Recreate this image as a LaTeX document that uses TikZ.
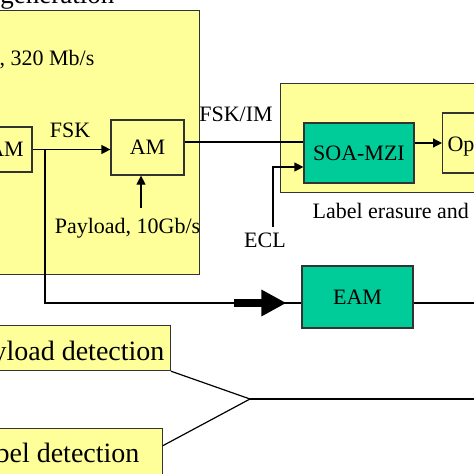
\documentclass[tikz,border=0pt]{standalone}
\usepackage{fontspec}
\setmainfont{Liberation Serif}
\usetikzlibrary{arrows.meta,calc}
\definecolor{panelyellow}{HTML}{FFFF99}
\definecolor{devgreen}{HTML}{00CC99}
\begin{document}
\begin{tikzpicture}[x=1pt,y=-1pt,>={Triangle[length=9pt,width=9pt]},
  line width=1.2pt,
  panel/.style={draw=black!80,fill=panelyellow,inner sep=0pt},
  block/.style={panel,font=\fontsize{22}{26}\selectfont},
  device/.style={draw=black!80,fill=devgreen,inner sep=0pt,font=\fontsize{22}{26}\selectfont},
  txt/.style={inner sep=0pt,font=\fontsize{22}{26}\selectfont},
  bigtxt/.style={inner sep=0pt,font=\fontsize{28}{32}\selectfont},
  bigarrow/.style={line width=8pt,-{Triangle[length=25pt,width=25pt]}}]
 \useasboundingbox (0,0) rectangle (474,474);
 \clip (0,0) rectangle (474,474);
 % label generation
 \node[panel,anchor=north east,minimum width=260,minimum height=264] (gen) at (200,10) {};
 \node[bigtxt,font=\fontsize{27}{31}\selectfont,anchor=base east] (gentitle) at (115,3) {Label generation};
 \node[txt,anchor=base east] (rate) at (95,65) {Label, 320 Mb/s};
 \node[block,minimum width=52,minimum height=45] (am1) at (6,149.5) {AM};
 \node[block,minimum width=73,minimum height=55] (am2) at (147.5,147.5) {AM};
 \draw[->] (am1.east) -- (am2.west |- am1.east);
 \node[txt,anchor=base] (fsk) at (70,137) {FSK};
 \node[txt,anchor=base] (pay) at (127.5,233) {Payload, 10Gb/s};
 \coordinate (payin) at (141,208);
 \draw[->] (payin) -- (payin |- am2.south);
 % label erasure
 \node[panel,anchor=north west,minimum width=220,minimum height=109] (erase) at (280,83) {};
 \node[device,minimum width=110,minimum height=60] (soa) at (359,153) {SOA-MZI};
 \node[panel,anchor=west,minimum width=80,minimum height=60] (op) at (442,143) {};
 \node[txt,anchor=base west] (optxt) at (447,151) {Op};
 \coordinate (fskim) at ($(am2.east)+(0,-5.5)$);
 \draw (fskim) -- (fskim -| soa.west);
 \node[txt,anchor=base] (fskimtxt) at (236,121) {FSK/IM};
 \draw[->] (soa.east |- op.west) -- (op.west);
 \node[txt,anchor=base] (ecl) at (265,247) {ECL};
 \coordinate (eclup) at (273,227);
 \draw[->] (eclup) |- ($(soa.west)+(0,14)$);
 \node[txt,anchor=base west] (erasetxt) at (312,218) {Label erasure and};
 % payload branch
 \node[device,minimum width=111,minimum height=62] (eam) at (357.5,297) {EAM};
 \coordinate (tap) at (45,149.5);
 \coordinate (eamin) at ($(eam.west)+(0,6)$);
 \draw (tap) |- (eamin);
 \draw[bigarrow] ($(eamin)+(-67,0)$) -- ($(eamin)+(-15,0)$);
 \coordinate (eamout) at ($(eam.east)+(0,6)$);
 \draw (eamout) -- ++(70,0);
 % detection
 \node[panel,anchor=north east,minimum width=260,minimum height=45] (pdet) at (171,325) {};
 \node[bigtxt,anchor=base east] (pdettxt) at (165,360) {Payload detection};
 \node[panel,anchor=north east,minimum width=260,minimum height=46] (ldet) at (163,428) {};
 \node[bigtxt,anchor=base east] (ldettxt) at (140,462) {Label detection};
 \coordinate (merge) at (250,399);
 \draw (pdet.south east) -- (merge);
 \draw ($(ldet.east)+(0,-6)$) -- (merge);
 \draw (merge) -- ++(240,0);
\end{tikzpicture}
\end{document}
